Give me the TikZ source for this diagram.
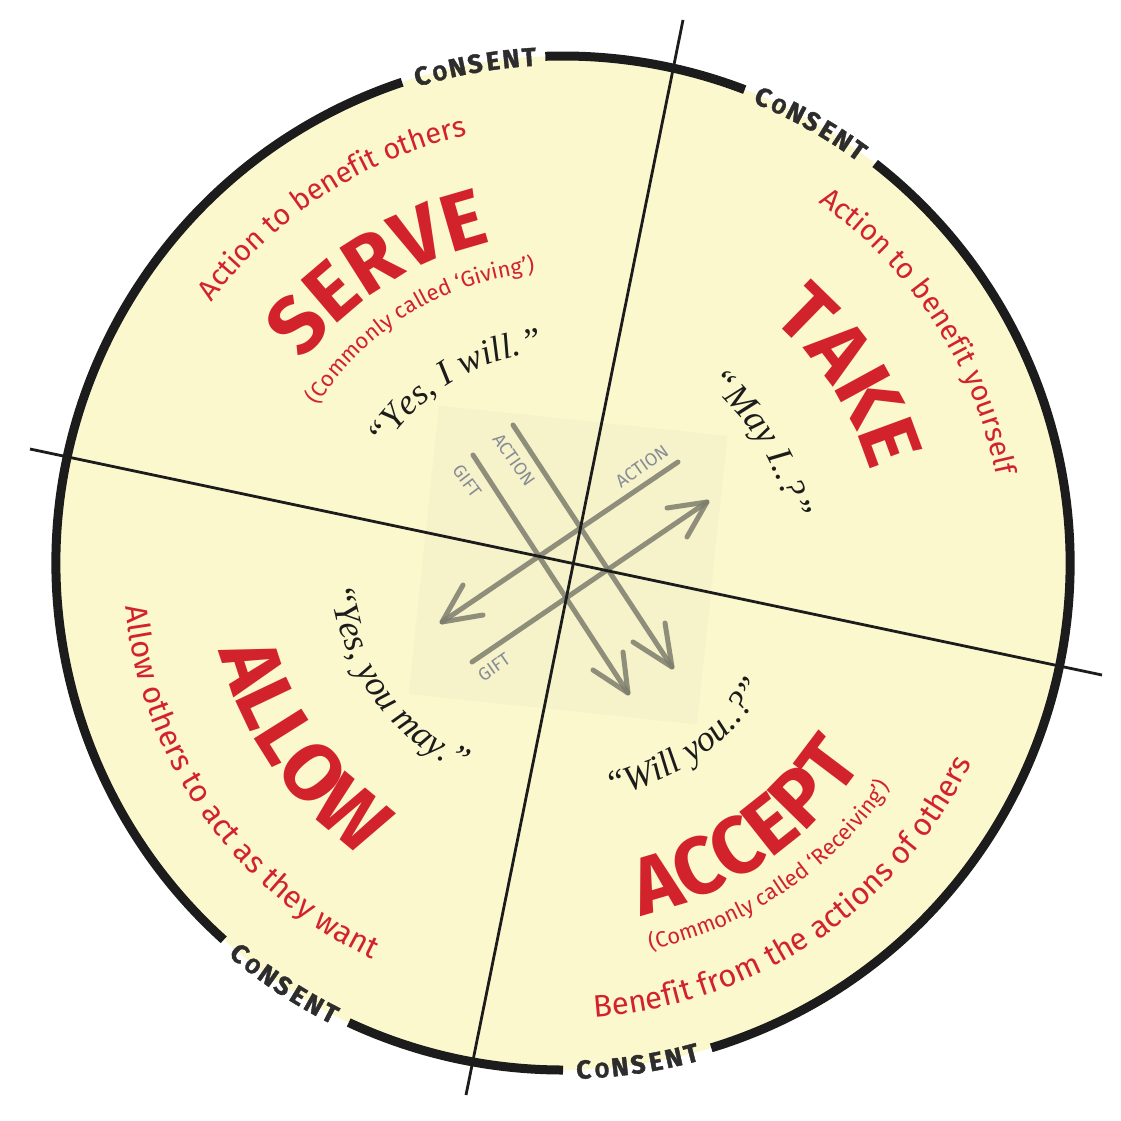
\documentclass[tikz,border=0pt]{standalone}
\usepackage{fontspec}
\usetikzlibrary{calc,decorations.text}
\setmainfont{Fira Sans}
\newfontfamily\dinf{Fira Sans}
\newfontfamily\consentf{Fira Sans}[BoldFeatures={FakeBold=1.6}]
\newfontfamily\quotef{Liberation Serif}
\definecolor{myred}{RGB}{210,35,45}
\definecolor{paper}{RGB}{252,248,206}
\definecolor{arrowgrey}{RGB}{125,125,110}
\definecolor{labelgrey}{RGB}{135,140,152}
\definecolor{ink}{RGB}{28,28,28}
\definecolor{consentink}{RGB}{45,45,45}
\newcommand\fSmall{\dinf\fontsize{29}{36}\selectfont\color{myred}}
\newcommand\fSmallB{\dinf\fontsize{31}{36}\selectfont\color{myred}}
\newcommand\fBig{\dinf\bfseries\fontsize{81}{90}\selectfont\color{myred}}
\newcommand\fSub{\dinf\fontsize{22}{26}\selectfont\color{myred}}
\newcommand\fQuote{\quotef\itshape\fontsize{36}{40}\selectfont\color{ink}}
\newcommand\cwtext[4]{\path[decorate,decoration={text along path,text align=center,text={|#3|#4}}] ($(C)+({#2+70}:#1)$) arc[start angle={#2+70},end angle={#2-70},radius=#1];}
\newcommand\ccwtext[4]{\path[decorate,decoration={text along path,text align=center,text={|#3|#4}}] ($(C)+({#2-70}:#1)$) arc[start angle={#2-70},end angle={#2+70},radius=#1];}
\tikzset{
  circ/.style={line width=9pt, draw=ink},
  divider/.style={line width=2.8pt, draw=ink},
  arr/.style={line width=5pt, draw=arrowgrey, draw opacity=0.85, line cap=round, line join=round},
  lab/.style={font=\dinf\fontsize{18}{20}\selectfont, text=labelgrey, inner sep=0pt},
  consent/.style={font=\consentf\bfseries\fontsize{26}{28}\selectfont, text=consentink, inner sep=0pt}
}
\begin{document}
\begin{tikzpicture}[x=1pt,y=1pt]
\useasboundingbox (0,0) rectangle (1121,-1121);
\coordinate (C) at (563,-563);
% disc
\fill[paper] (C) circle[radius=507];
% faint panel behind the arrows
\fill[black, opacity=0.022, rotate around={-6:(568,-565)}] (423,-420) rectangle (713,-710);
% arrows
\coordinate (a1) at (513,-425); \coordinate (a2) at (672,-667);
\coordinate (ab1) at (633,-642); \coordinate (ab2) at (665,-623);
\coordinate (b1) at (473,-455); \coordinate (b2) at (628,-693);
\coordinate (bb1) at (593,-670); \coordinate (bb2) at (623,-652);
\coordinate (c1) at (678,-462); \coordinate (c2) at (442,-622);
\coordinate (cb1) at (463,-585); \coordinate (cb2) at (483,-615);
\coordinate (d1) at (472,-662); \coordinate (d2) at (707,-502);
\coordinate (db1) at (667,-508); \coordinate (db2) at (687,-537);
\draw[arr] (a1) -- (a2); \draw[arr] (ab1) -- (a2) -- (ab2);
\draw[arr] (b1) -- (b2); \draw[arr] (bb1) -- (b2) -- (bb2);
\draw[arr] (c1) -- (c2); \draw[arr] (cb1) -- (c2) -- (cb2);
\draw[arr] (d1) -- (d2); \draw[arr] (db1) -- (d2) -- (db2);
\node[lab, rotate=-55] (la1) at (514,-460) {ACTION};
\node[lab, rotate=-53] (lg1) at (467,-481) {GIFT};
\node[lab, rotate=35] (la2) at (642,-466) {ACTION};
\node[lab, rotate=35] (lg2) at (494,-667) {GIFT};
% dividing lines
\coordinate (v1) at (683,-20); \coordinate (v2) at (466,-1095);
\coordinate (h1) at (30,-449); \coordinate (h2) at (1102,-675);
\draw[divider] (v1) -- (v2);
\draw[divider] (h1) -- (h2);
% rim with gaps
\draw[circ] ($(C)+(108.5:507)$) arc[start angle=108.5,end angle=228,radius=507];
\draw[circ] ($(C)+(245:507)$) arc[start angle=245,end angle=270,radius=507];
\draw[circ] ($(C)+(287:507)$) arc[start angle=287,end angle=412,radius=507];
\draw[circ] ($(C)+(69:507)$) arc[start angle=69,end angle=92,radius=507];
% CONSENT labels
\foreach \m/\s [count=\k] in {100/-1,60.6/-1,236.5/1,278.5/1}{
  \foreach \L [count=\i from 0] in {C,O,N,S,E,N,T}{
    \pgfmathsetmacro\ang{\m+\s*(\i-3)*2.05}
    \pgfmathsetmacro\rot{\ang+\s*90}
    \pgfmathsetmacro\rad{507+\s*9}
    \node[consent, rotate=\rot, anchor=base] (cs\k\i) at ($(C)+(\ang:\rad)$) {\ifnum\i=1 \fontsize{21}{22}\selectfont\fi\L};
  }
}
% SERVE
\cwtext{438}{123}{\fSmall}{Action to benefit others}
\cwtext{329}{122.4}{\fBig}{SERVE}
\cwtext{292}{121.4}{\fSub}{(Commonly called ‘Giving’)}
\cwtext{212}{121.5}{\fQuote}{“Yes, I will.”}
% TAKE
\cwtext{442}{33}{\fSmall}{Action to benefit yourself}
\cwtext{321}{33}{\fBig}{TAKE}
\cwtext{230}{31}{\fQuote}{“May I..?”}
% ALLOW
\ccwtext{440}{215}{\fSmallB}{Allow others to act as they want}
\ccwtext{355}{215}{\fBig}{ALLOW}
\ccwtext{233}{215}{\fQuote}{“Yes, you may.”}
% ACCEPT
\ccwtext{455}{304}{\fSmallB}{Benefit from the actions of others}
\ccwtext{361}{304.5}{\fBig}{ACCEPT}
\ccwtext{397}{304.2}{\fSub}{(Commonly called ‘Receiving’)}
\ccwtext{238}{304.8}{\fQuote}{“Will you..?”}
\end{tikzpicture}
\end{document}
